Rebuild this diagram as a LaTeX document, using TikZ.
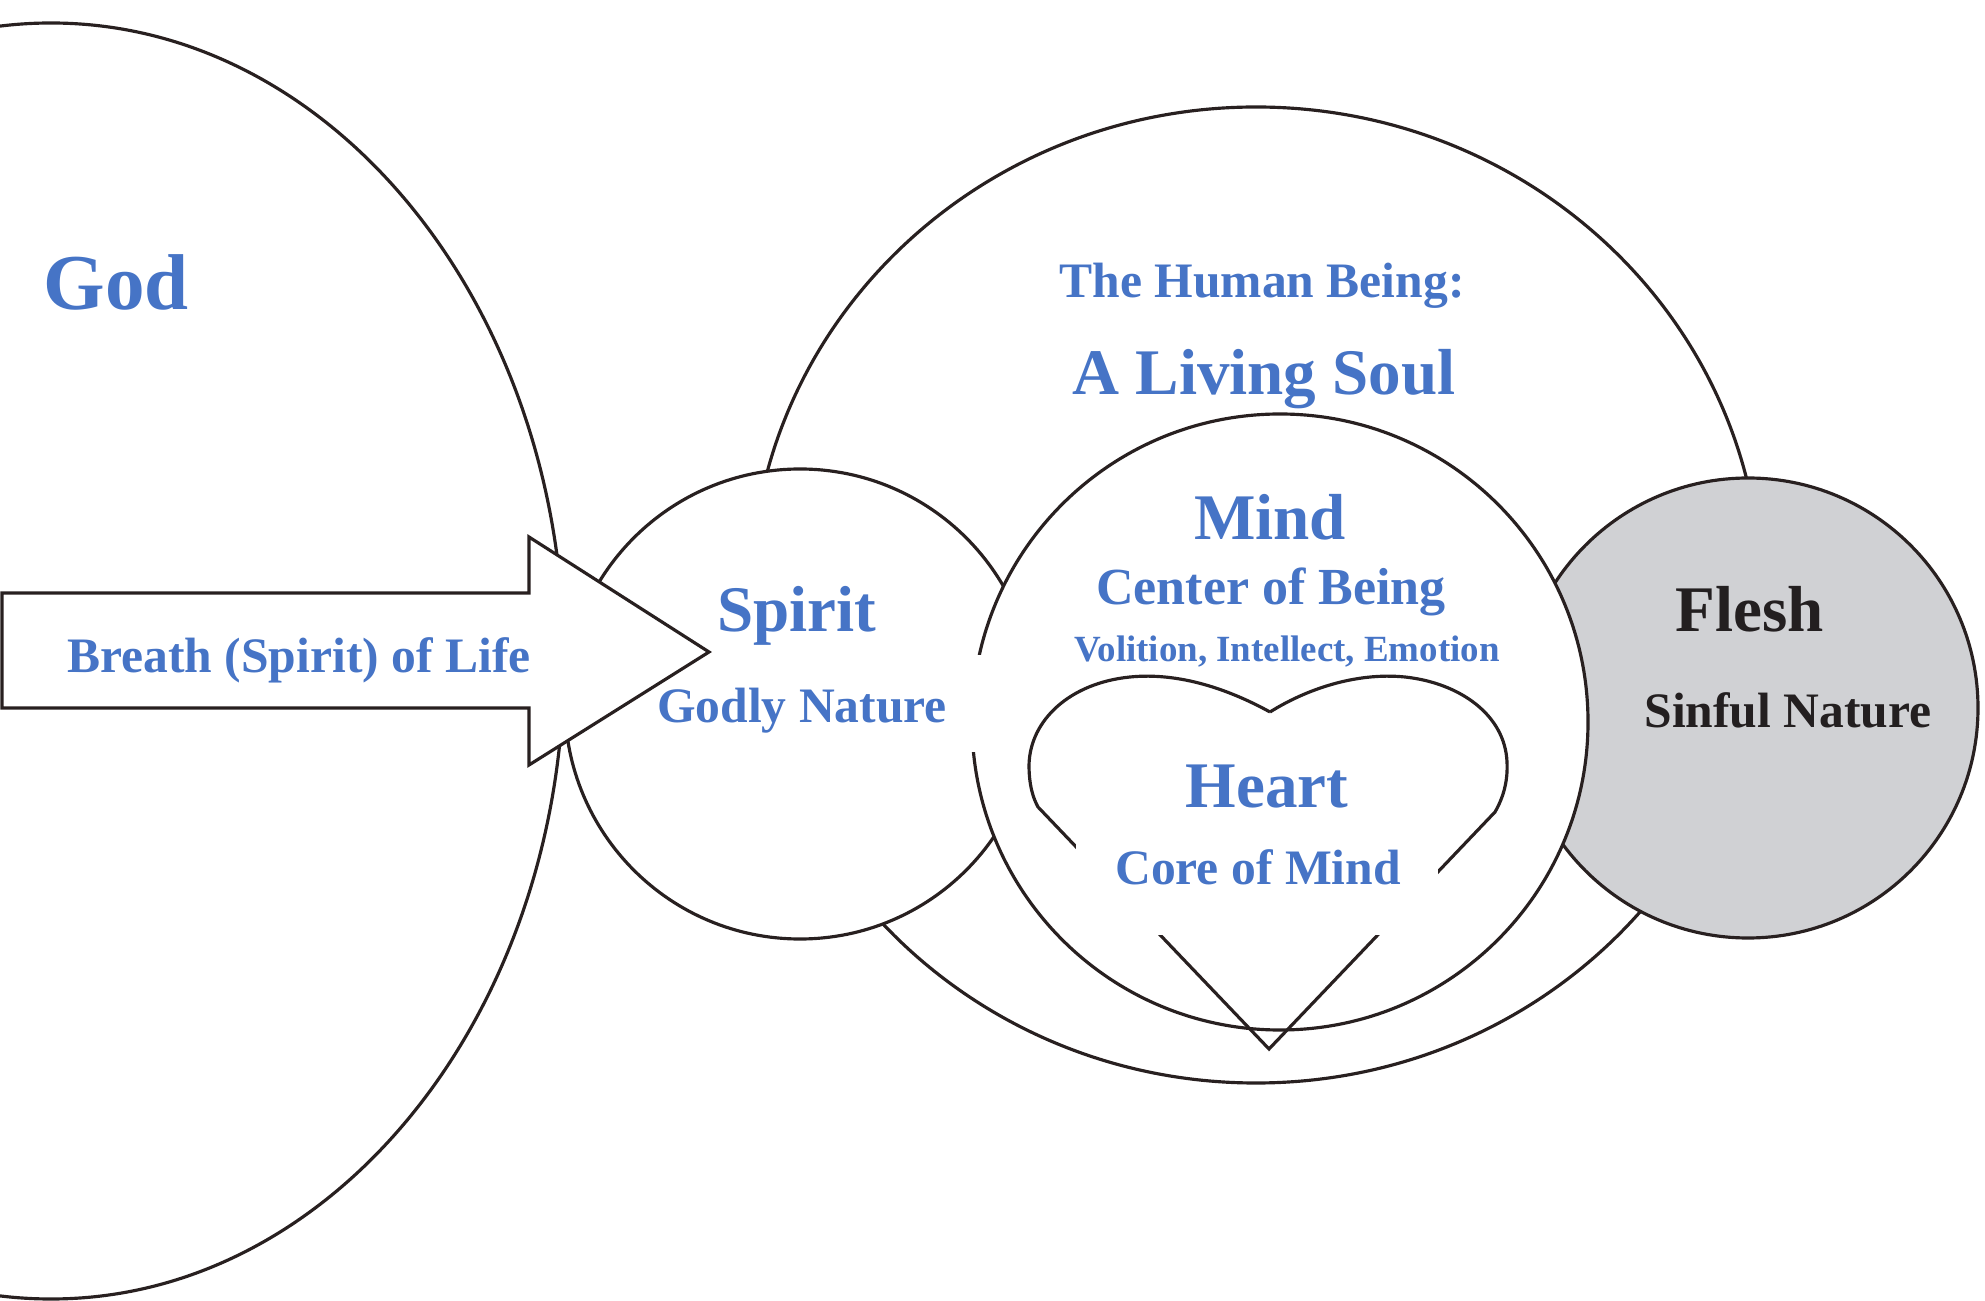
\documentclass[tikz,border=0pt]{standalone}
\usepackage{fontspec}
\setmainfont{Liberation Serif}

\definecolor{soulblue}{RGB}{70,116,198}
\definecolor{fleshgray}{RGB}{208,209,212}
\definecolor{fleshink}{RGB}{35,31,32}
\definecolor{inkline}{RGB}{40,32,32}

\begin{document}
\begin{tikzpicture}[
    x=0.01cm, y=-0.01cm,
    outline/.style={draw=inkline, line width=0.9pt},
    blank/.style={outline, fill=white},
    lbl/.style={soulblue, inner sep=0pt, anchor=base},
    bigtxt/.style={lbl, font=\fontsize{22.5}{26}\selectfont\bfseries},
    headtxt/.style={lbl, font=\fontsize{18.5}{22}\selectfont\bfseries},
    subtxt/.style={lbl, font=\fontsize{14.1}{17}\selectfont\bfseries},
    smalltxt/.style={lbl, font=\fontsize{10.5}{13}\selectfont\bfseries}
]

\useasboundingbox (0,0) rectangle (1985,1301);
\clip (0,0) rectangle (1985,1301);

% ---------- the human being ----------
\draw[blank] (1256,595) ellipse [x radius=505, y radius=488];
\draw[blank] (800,704) circle [radius=235];
\draw[outline, fill=fleshgray] (1748,708) circle [radius=230];
\draw[blank] (1280,722) circle [radius=308];

% ---------- God ----------
\draw[outline] (51,661) ellipse [x radius=513, y radius=638];

% ---------- heart ----------
\draw[outline, line join=miter]
      (1270,712) .. controls (1230,690) and (1180,672) .. (1130,677)
   .. controls (1070,683) and (1030,720) .. (1029,765)
   .. controls (1029,785) and (1033,798) .. (1038,807)
   -- (1269,1049) -- (1495,812)
   .. controls (1503,798) and (1508,782) .. (1507,762)
   .. controls (1505,715) and (1460,683) .. (1405,677)
   .. controls (1355,672) and (1305,690) .. (1270,712);

% text boxes cover the lines behind them
\fill[white] (1076,745) rectangle (1438,935);
\fill[white] (640,655) rectangle (990,752);

% ---------- breath of life ----------
\draw[blank, line join=miter]
      (2,593) -- (529,593) -- (529,537) -- (709,652)
   -- (529,765) -- (529,708) -- (2,708) -- cycle;

% ---------- labels ----------
\node[bigtxt, anchor=base west] (god) at (43,310) {God};
\node[subtxt] (breath) at (299,673) {Breath (Spirit) of Life};

\node[subtxt] (human) at (1262,298) {The Human Being:};
\node[headtxt] (soul) at (1264,395) {A Living Soul};

\node[headtxt] (spirit) at (797,632) {Spirit};
\node[subtxt] (godly) at (802,723) {Godly Nature};

\node[headtxt] (mind) at (1270,540) {Mind};
\node[lbl, font=\fontsize{14.8}{18}\selectfont\bfseries] (center) at (1271,605) {Center of Being};
\node[smalltxt] (faculties) at (1287,662) {Volition, Intellect, Emotion};

\node[headtxt] (heart) at (1267,808) {Heart};
\node[subtxt] (core) at (1258,884) {Core of Mind};

\node[headtxt, fleshink] (flesh) at (1750,632) {Flesh};
\node[subtxt, fleshink] (sinful) at (1788,728) {Sinful Nature};

\end{tikzpicture}
\end{document}
